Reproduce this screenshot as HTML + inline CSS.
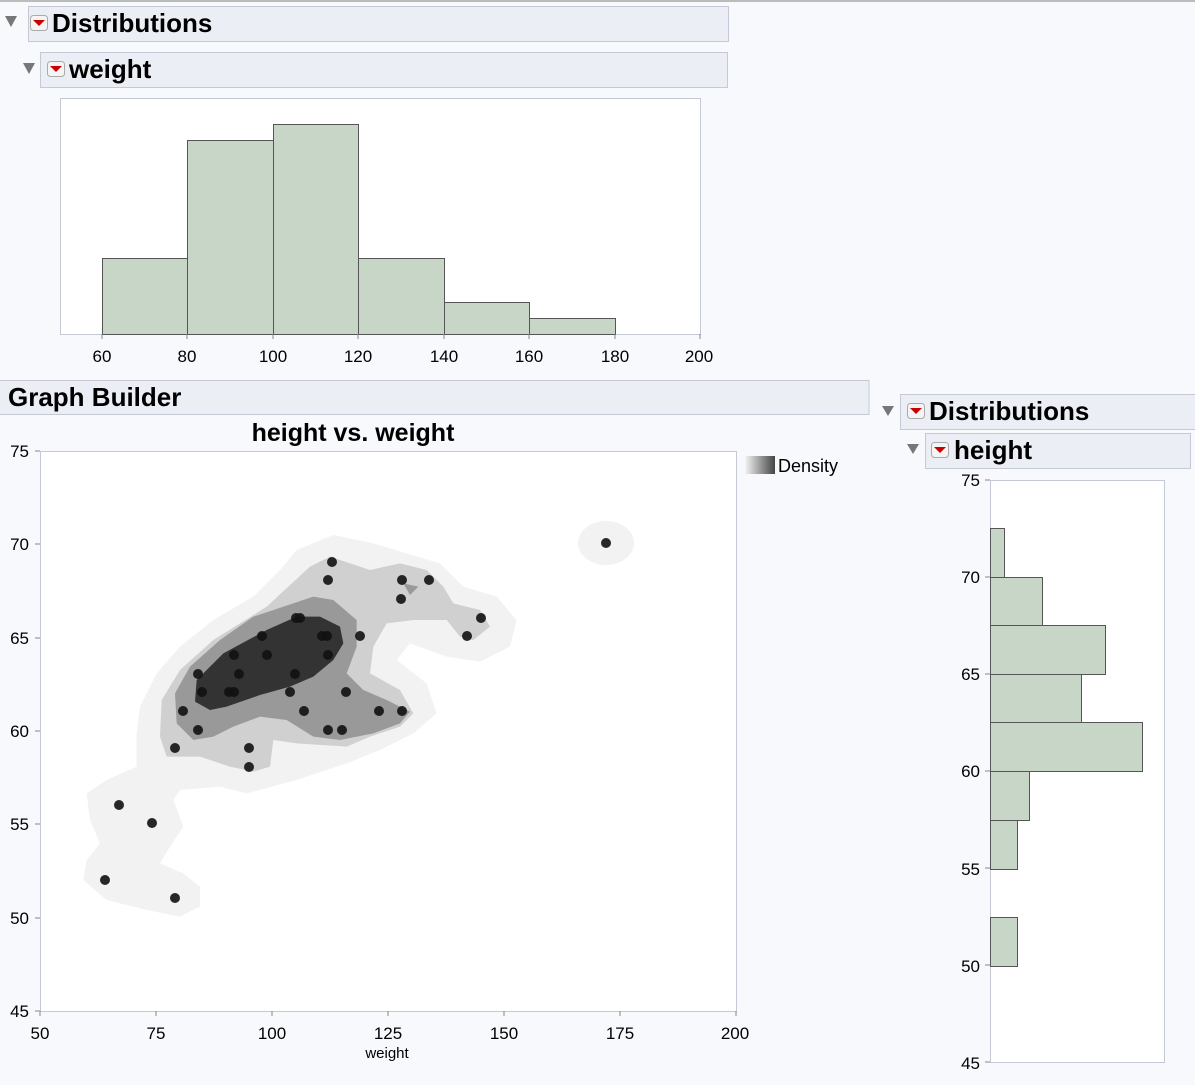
<!DOCTYPE html>
<html><head><style>
body{margin:0;background:#f8f9fd;width:1195px;height:1080px;overflow:hidden;font-family:"Liberation Sans",sans-serif;}
</style></head><body>
<svg width="1195" height="1080" xmlns="http://www.w3.org/2000/svg" font-family="Liberation Sans, sans-serif">
<rect x="0" y="0" width="1195" height="1080" fill="#f8f9fd"/>
<line x1="0" y1="1" x2="1195" y2="1" stroke="#bbb" stroke-width="2"/>
<g stroke="#c5c9d6" fill="#eceef5">
<rect x="28.5" y="6.5" width="700" height="35"/>
<rect x="40.5" y="52.5" width="687" height="35"/>
<rect x="-1" y="380.5" width="870" height="34"/>
<rect x="900.5" y="394.5" width="296" height="35"/>
<rect x="925.5" y="433.5" width="265" height="35"/>
</g>
<g fill="#777">
<polygon points="5,16 17,16 11,27"/>
<polygon points="23,63 35,63 29,74"/>
<polygon points="882,406 894,406 888,416"/>
<polygon points="907,444 919,444 913,454"/>
</g>
<g>
<rect x="30.5" y="15.5" width="17" height="15" rx="3" fill="#f4f4f4" stroke="#aaa"/><polygon points="33,20 45,20 39,26" fill="#c00"/>
<rect x="47.5" y="61.5" width="17" height="15" rx="3" fill="#f4f4f4" stroke="#aaa"/><polygon points="50,66 62,66 56,72" fill="#c00"/>
<rect x="907.5" y="403.5" width="17" height="15" rx="3" fill="#f4f4f4" stroke="#aaa"/><polygon points="910,408 922,408 916,414" fill="#c00"/>
<rect x="931.5" y="442.5" width="17" height="15" rx="3" fill="#f4f4f4" stroke="#aaa"/><polygon points="934,447 946,447 940,453" fill="#c00"/>
</g>
<g font-weight="bold" font-size="26" fill="#000">
<text x="52" y="32">Distributions</text>
<text x="69" y="78">weight</text>
<text x="8" y="406">Graph Builder</text>
<text x="929" y="420">Distributions</text>
<text x="954" y="459">height</text>
</g>
<rect x="60.5" y="98.5" width="640" height="236" fill="#fff" stroke="#c5c9d6"/>
<g fill="#c8d6c8" stroke="#555">
<rect x="102.5" y="258.5" width="85" height="76"/>
<rect x="187.5" y="140.5" width="86" height="194"/>
<rect x="273.5" y="124.5" width="85" height="210"/>
<rect x="358.5" y="258.5" width="86" height="76"/>
<rect x="444.5" y="302.5" width="85" height="32"/>
<rect x="529.5" y="318.5" width="86" height="16"/>
</g>
<g stroke="#888"><line x1="102" y1="334" x2="102" y2="339"/><line x1="187" y1="334" x2="187" y2="339"/><line x1="273" y1="334" x2="273" y2="339"/><line x1="358" y1="334" x2="358" y2="339"/><line x1="444" y1="334" x2="444" y2="339"/><line x1="529" y1="334" x2="529" y2="339"/><line x1="615" y1="334" x2="615" y2="339"/><line x1="700" y1="334" x2="700" y2="339"/></g>
<g font-size="17" text-anchor="middle">
<text x="102" y="362">60</text><text x="187" y="362">80</text><text x="273" y="362">100</text><text x="358" y="362">120</text><text x="444" y="362">140</text><text x="529" y="362">160</text><text x="615" y="362">180</text><text x="699" y="362">200</text>
</g>
<text x="353" y="441" font-size="25" font-weight="bold" text-anchor="middle">height vs. weight</text>
<rect x="40.5" y="451.5" width="696" height="560" fill="#fff" stroke="#c5c9d6"/>
<g transform="translate(80,520) scale(0.33333)">
<polygon fill="#f2f2f2" points="650,90 760,45 880,70 980,100 1080,130 1150,200 1250,230 1310,300 1290,380 1200,425 1100,410 990,370 950,420 1040,490 1070,580 1000,640 900,690 800,730 650,780 500,820 420,800 300,810 280,840 310,920 270,980 240,1030 310,1060 360,1100 360,1160 300,1190 200,1170 80,1140 10,1080 20,1020 60,970 30,900 20,820 80,780 170,740 170,640 180,560 230,460 300,380 400,300 520,230 600,150"/>
<polygon fill="#d0d0d0" points="690,140 750,110 870,150 960,130 1040,150 1090,200 1120,250 1200,270 1230,320 1180,360 1140,350 1100,300 1000,300 920,310 880,380 870,460 960,510 1000,580 960,620 870,650 800,680 650,670 580,660 570,740 520,755 450,740 360,710 260,710 240,650 245,540 300,450 400,360 560,260"/>
<polygon fill="#999" points="520,290 700,230 760,240 830,300 830,380 800,460 850,510 920,540 990,575 960,610 880,640 780,660 700,650 620,600 540,590 460,620 400,650 340,660 290,610 285,520 330,440 420,360"/>
<polygon fill="#999" points="970,190 1015,200 990,225"/>
<polygon fill="#333" points="350,480 430,400 560,330 650,290 720,290 780,320 790,370 760,420 700,470 630,500 540,525 440,560 390,570 345,545"/>
</g>
<ellipse cx="606" cy="543" rx="28" ry="22" fill="#f2f2f2"/>
<g fill="#111" fill-opacity="0.9">
<circle cx="606" cy="543" r="5"/><circle cx="332" cy="562" r="5"/><circle cx="328" cy="580" r="5"/><circle cx="402" cy="580" r="5"/><circle cx="429" cy="580" r="5"/><circle cx="401" cy="599" r="5"/><circle cx="481" cy="618" r="5"/><circle cx="467" cy="636" r="5"/><circle cx="296" cy="618" r="5"/><circle cx="300" cy="618" r="5"/><circle cx="262" cy="636" r="5"/><circle cx="322" cy="636" r="5"/><circle cx="327" cy="636" r="5"/><circle cx="360" cy="636" r="5"/><circle cx="234" cy="655" r="5"/><circle cx="267" cy="655" r="5"/><circle cx="328" cy="655" r="5"/><circle cx="198" cy="674" r="5"/><circle cx="239" cy="674" r="5"/><circle cx="295" cy="674" r="5"/><circle cx="202" cy="692" r="5"/><circle cx="229" cy="692" r="5"/><circle cx="234" cy="692" r="5"/><circle cx="290" cy="692" r="5"/><circle cx="346" cy="692" r="5"/><circle cx="183" cy="711" r="5"/><circle cx="304" cy="711" r="5"/><circle cx="379" cy="711" r="5"/><circle cx="402" cy="711" r="5"/><circle cx="198" cy="730" r="5"/><circle cx="328" cy="730" r="5"/><circle cx="342" cy="730" r="5"/><circle cx="175" cy="748" r="5"/><circle cx="249" cy="748" r="5"/><circle cx="249" cy="767" r="5"/><circle cx="119" cy="805" r="5"/><circle cx="152" cy="823" r="5"/><circle cx="105" cy="880" r="5"/><circle cx="175" cy="898" r="5"/>
</g>
<g stroke="#888">
<line x1="35" y1="451" x2="40" y2="451"/><line x1="35" y1="544" x2="40" y2="544"/><line x1="35" y1="638" x2="40" y2="638"/><line x1="35" y1="731" x2="40" y2="731"/><line x1="35" y1="824" x2="40" y2="824"/><line x1="35" y1="918" x2="40" y2="918"/><line x1="35" y1="1011" x2="40" y2="1011"/>
<line x1="40" y1="1011" x2="40" y2="1016"/><line x1="156" y1="1011" x2="156" y2="1016"/><line x1="272" y1="1011" x2="272" y2="1016"/><line x1="388" y1="1011" x2="388" y2="1016"/><line x1="504" y1="1011" x2="504" y2="1016"/><line x1="620" y1="1011" x2="620" y2="1016"/><line x1="736" y1="1011" x2="736" y2="1016"/>
</g>
<g font-size="17" text-anchor="end">
<text x="29" y="457">75</text><text x="29" y="550">70</text><text x="29" y="644">65</text><text x="29" y="737">60</text><text x="29" y="830">55</text><text x="29" y="924">50</text><text x="29" y="1017">45</text>
</g>
<g font-size="17" text-anchor="middle">
<text x="40" y="1039">50</text><text x="156" y="1039">75</text><text x="272" y="1039">100</text><text x="388" y="1039">125</text><text x="504" y="1039">150</text><text x="620" y="1039">175</text><text x="735" y="1039">200</text>
</g>
<text x="387" y="1058" font-size="15" text-anchor="middle">weight</text>
<defs><linearGradient id="dg" x1="0" x2="1"><stop offset="0" stop-color="#f4f4f4"/><stop offset="1" stop-color="#444"/></linearGradient></defs>
<rect x="745" y="456" width="30" height="18" fill="url(#dg)"/>
<text x="778" y="472" font-size="18">Density</text>
<rect x="990.5" y="480.5" width="174" height="582" fill="#fff" stroke="#c5c9d6"/>
<g fill="#c8d6c8" stroke="#555">
<rect x="990.5" y="528.5" width="14" height="49"/>
<rect x="990.5" y="577.5" width="52" height="48"/>
<rect x="990.5" y="625.5" width="115" height="49"/>
<rect x="990.5" y="674.5" width="91" height="48"/>
<rect x="990.5" y="722.5" width="152" height="49"/>
<rect x="990.5" y="771.5" width="39" height="49"/>
<rect x="990.5" y="820.5" width="27" height="49"/>
<rect x="990.5" y="917.5" width="27" height="49"/>
</g>
<g stroke="#888">
<line x1="985" y1="480" x2="990" y2="480"/><line x1="985" y1="577" x2="990" y2="577"/><line x1="985" y1="674" x2="990" y2="674"/><line x1="985" y1="771" x2="990" y2="771"/><line x1="985" y1="868" x2="990" y2="868"/><line x1="985" y1="965" x2="990" y2="965"/><line x1="985" y1="1062" x2="990" y2="1062"/>
</g>
<g font-size="17" text-anchor="end">
<text x="980" y="486">75</text><text x="980" y="583">70</text><text x="980" y="680">65</text><text x="980" y="777">60</text><text x="980" y="875">55</text><text x="980" y="972">50</text><text x="980" y="1069">45</text>
</g>
</svg>
</body></html>
